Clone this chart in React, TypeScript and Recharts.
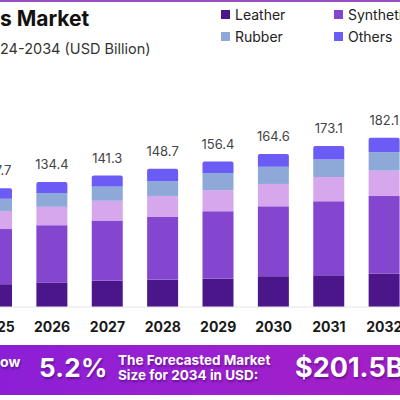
import { BarChart, Bar, XAxis, YAxis, LabelList } from 'recharts'

const YEARS = ['2025', '2026', '2027', '2028', '2029', '2030', '2031', '2032']
const LEATHER = [24.5, 26.2, 28.1, 29.5, 30.6, 33.1, 34.1, 35.9]
const SYNTHETIC = [59.3, 61.8, 64.8, 67.3, 72.4, 75.1, 79.6, 83.4]
const TEXTILE = [19.5, 19.7, 21.3, 22.6, 22.7, 24.1, 26.1, 27.3]
const RUBBER = [13.2, 15.0, 15.5, 16.1, 18.4, 18.6, 18.7, 20.0]
const OTHERS = [11.2, 11.7, 11.6, 13.2, 12.3, 13.7, 14.6, 15.5]
const TOTALS = [127.7, 134.4, 141.3, 148.7, 156.4, 164.6, 173.1, 182.1]

// stack order bottom -> top
const SERIES = [
  { key: 'leather', name: 'Leather', color: '#4b1689' },
  { key: 'synthetic', name: 'Synthetic', color: '#8446cf' },
  { key: 'textile', name: 'Textile', color: '#d7a7ee' },
  { key: 'rubber', name: 'Rubber', color: '#8ea9d8' },
  { key: 'others', name: 'Others', color: '#6c5cf6' },
]

// legend slots that fall inside the crop
const LEGEND = [
  { name: 'Leather', color: '#4b1689', x: 221, y: 6 },
  { name: 'Synthetic', color: '#8446cf', x: 334, y: 6 },
  { name: 'Rubber', color: '#8ea9d8', x: 221, y: 28 },
  { name: 'Others', color: '#6c5cf6', x: 334, y: 28 },
]

const data = YEARS.map((year, i) => ({
  year,
  leather: LEATHER[i],
  synthetic: SYNTHETIC[i],
  textile: TEXTILE[i],
  rubber: RUBBER[i],
  others: OTHERS[i],
  total: TOTALS[i],
}))

const FONT = 'Inter, "Noto Sans", sans-serif'
const shadow = '1px 2px 2px rgba(50, 0, 80, 0.45)'

export default function App() {
  return (
    <div
      style={{
        position: 'absolute',
        left: 0,
        top: 0,
        width: 400,
        height: 400,
        overflow: 'hidden',
        background: '#fff',
        fontFamily: FONT,
      }}
    >
      <div style={{ position: 'absolute', left: 0, top: 0, width: 400, height: 2, background: '#9b4fc4' }} />

      <div style={{ position: 'absolute', left: 0, top: 6, fontSize: 21, fontWeight: 700, color: '#111', whiteSpace: 'nowrap' }}>
        s Market
      </div>
      <div style={{ position: 'absolute', left: 0, top: 40, fontSize: 14.5, color: '#333', whiteSpace: 'nowrap' }}>
        24-2034 (USD Billion)
      </div>

      {LEGEND.map((item) => (
        <div
          key={item.name}
          style={{ position: 'absolute', left: item.x, top: item.y, display: 'flex', alignItems: 'center', whiteSpace: 'nowrap' }}
        >
          <span style={{ width: 9, height: 9, background: item.color, marginRight: 5 }} />
          <span style={{ fontSize: 14, color: '#222' }}>{item.name}</span>
        </div>
      ))}

      <div style={{ position: 'absolute', left: -30.7, top: 101 }}>
        <BarChart width={443} height={242} data={data} margin={{ top: 20, right: 0, bottom: 0, left: 0 }}>
          <XAxis
            dataKey="year"
            height={36}
            axisLine={{ stroke: '#e3e3e3' }}
            tickLine={false}
            tickSize={0}
            tickMargin={15}
            tick={{ fill: '#1a1a1a', fontSize: 14, fontWeight: 700, fontFamily: FONT }}
          />
          <YAxis hide domain={[0, 200]} />
          {SERIES.map((s, idx) => (
            <Bar
              key={s.key}
              dataKey={s.key}
              name={s.name}
              stackId="a"
              fill={s.color}
              barSize={31}
              radius={idx === SERIES.length - 1 ? [2, 2, 0, 0] : 0}
              isAnimationActive={false}
            >
              {idx === SERIES.length - 1 && (
                <LabelList
                  dataKey="total"
                  position="top"
                  offset={13}
                  style={{ fill: '#444', fontSize: 13, fontFamily: FONT }}
                />
              )}
            </Bar>
          ))}
        </BarChart>
      </div>

      <div
        style={{
          position: 'absolute',
          left: 0,
          top: 345,
          width: 400,
          height: 50,
          background: 'linear-gradient(90deg, #8c1fd6 0%, #9a20d0 50%, #a31fc6 100%)',
          color: '#fff',
          fontWeight: 700,
          textShadow: shadow,
        }}
      >
        <div style={{ position: 'absolute', left: 0, top: 8, fontSize: 14, whiteSpace: 'nowrap' }}>ow</div>
        <div style={{ position: 'absolute', left: 39, top: 7, fontSize: 26, letterSpacing: 0.3, whiteSpace: 'nowrap' }}>5.2%</div>
        <div style={{ position: 'absolute', left: 118, top: 8, fontSize: 13.5, lineHeight: '15px', whiteSpace: 'nowrap' }}>
          The Forecasted Market
          <br />
          Size for 2034 in USD:
        </div>
        <div style={{ position: 'absolute', left: 295, top: 6, fontSize: 27, whiteSpace: 'nowrap' }}>$201.5B</div>
      </div>
    </div>
  )
}
